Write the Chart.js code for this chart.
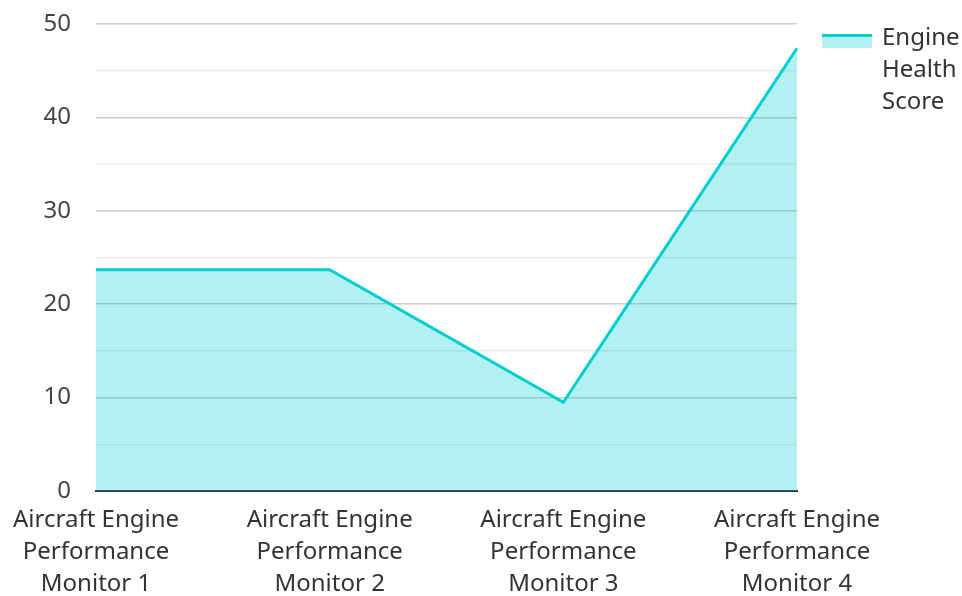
<!DOCTYPE html>
<html>
<head>
<meta charset="utf-8">
<script src="https://cdn.jsdelivr.net/npm/chart.js@4/dist/chart.umd.min.js"></script>
<style>
  html, body { margin: 0; padding: 0; background: #fff; }
  #wrap { position: relative; width: 962px; height: 596px; }
  #legend { position: absolute; left: 822px; top: 20px; font-family: "Noto Sans", sans-serif; font-size: 24px; line-height: 32px; color: #333; }
  #legend .swatch { position: absolute; left: 0; top: 14px; width: 50px; height: 14px; background: rgba(0, 206, 209, 0.3); border-top: 3px solid #00ced1; box-sizing: border-box; }
  #legend .txt { margin-left: 60px; }
</style>
</head>
<body>
<div id="wrap">
  <canvas id="grafico" width="962" height="596"></canvas>
  <div id="legend"><div class="swatch"></div><div class="txt" id="legend-text"></div></div>
</div>
<script>
// dados
const categorias = [
    ['Aircraft Engine', 'Performance', 'Monitor 1'],
    ['Aircraft Engine', 'Performance', 'Monitor 2'],
    ['Aircraft Engine', 'Performance', 'Monitor 3'],
    ['Aircraft Engine', 'Performance', 'Monitor 4']
];
const serieNome = 'Engine Health Score';
const serieValores = [23.7, 23.7, 9.5, 47.4];
const yMin = 0;
const yMax = 50;
const yPasso = 5;

document.getElementById('legend-text').innerHTML = serieNome.split(' ').join('<br>');

Chart.defaults.font.family = '"Noto Sans", sans-serif';
Chart.defaults.font.size = 24;
Chart.defaults.color = '#444';

new Chart(document.getElementById('grafico'), {
    type: 'line',
    data: {
        labels: categorias,
        datasets: [{
            label: serieNome,
            data: serieValores,
            borderColor: '#00ced1',
            backgroundColor: 'rgba(0, 206, 209, 0.3)',
            borderWidth: 3,
            pointRadius: 0,
            tension: 0,
            fill: 'origin'
        }]
    },
    options: {
        responsive: false,
        animation: false,
        layout: { padding: { top: 0, right: 165, bottom: 0, left: 0 } },
        plugins: {
            legend: { display: false },
            tooltip: { enabled: false }
        },
        scales: {
            x: {
                offset: false,
                afterFit: (scale) => { scale.height = 105; },
                grid: { display: false, drawTicks: false },
                border: { display: true, color: '#333', width: 2 },
                ticks: { padding: 13, maxRotation: 0, autoSkip: false, color: '#333', font: { lineHeight: 1.333 } }
            },
            y: {
                min: yMin,
                max: yMax,
                afterFit: (scale) => {
                    scale.width = 95;
                    scale.paddingTop = 24;
                    scale.paddingBottom = 0;
                },
                grid: {
                    drawTicks: false,
                    color: (ctx) => (ctx.tick && ctx.tick.value % 10 === 0) ? '#cccccc' : '#ebebeb',
                    lineWidth: 1.5
                },
                border: { display: false },
                ticks: {
                    stepSize: yPasso,
                    padding: 25,
                    callback: (v) => (v % 10 === 0 ? v : '')
                }
            }
        }
    }
});
</script>
</body>
</html>
